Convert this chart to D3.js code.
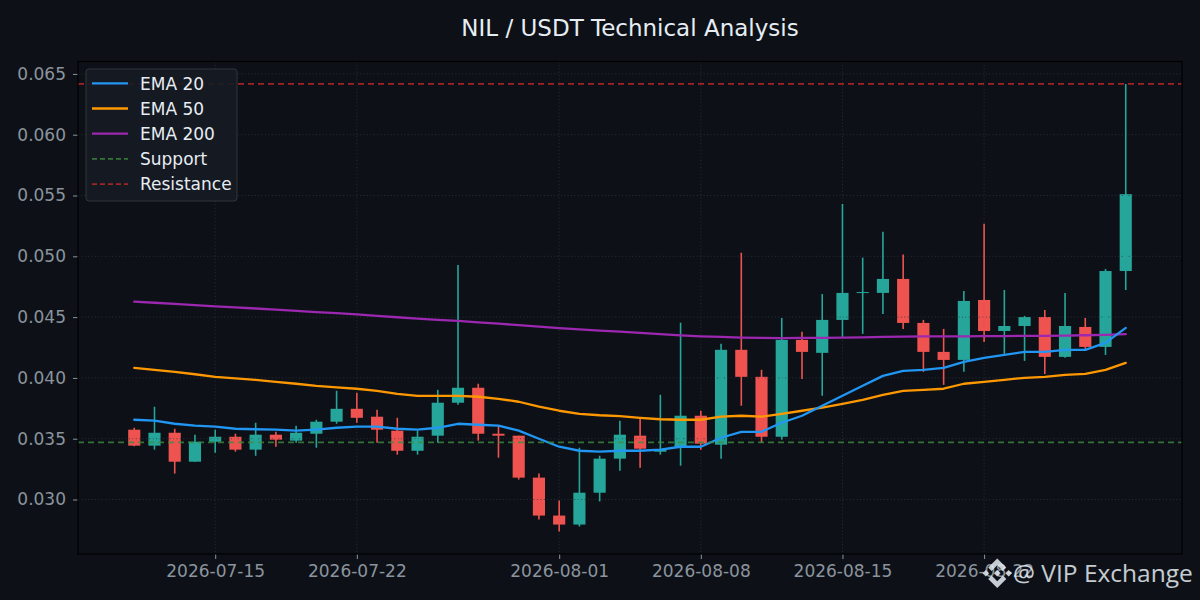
<!DOCTYPE html>
<html>
<head>
<meta charset="utf-8">
<script src="https://cdn.jsdelivr.net/npm/d3@7"></script>
<style>
  html, body { margin: 0; padding: 0; background: #0d1117; }
  svg { display: block; }
</style>
</head>
<body>
<svg id="chart" width="1200" height="600"></svg>
<script>
// ---------- data ----------
const dates = [
  "2026-07-11","2026-07-12","2026-07-13","2026-07-14","2026-07-15","2026-07-16","2026-07-17","2026-07-18","2026-07-19","2026-07-20",
  "2026-07-21","2026-07-22","2026-07-23","2026-07-24","2026-07-25","2026-07-26","2026-07-27","2026-07-28","2026-07-29","2026-07-30",
  "2026-07-31","2026-08-01","2026-08-02","2026-08-03","2026-08-04","2026-08-05","2026-08-06","2026-08-07","2026-08-08","2026-08-09",
  "2026-08-10","2026-08-11","2026-08-12","2026-08-13","2026-08-14","2026-08-15","2026-08-16","2026-08-17","2026-08-18","2026-08-19",
  "2026-08-20","2026-08-21","2026-08-22","2026-08-23","2026-08-24","2026-08-25","2026-08-26","2026-08-27","2026-08-28","2026-08-29"
];
const open = [
  0.03574,0.03443,0.03549,0.03311,0.03475,0.03516,0.03410,0.03533,0.03484,0.03541,
  0.03640,0.03746,0.03681,0.03566,0.03401,0.03525,0.03796,0.03919,0.03541,0.03525,
  0.03180,0.02868,0.02794,0.03056,0.03336,0.03525,0.03393,0.03426,0.03689,0.03451,
  0.04231,0.04009,0.03516,0.04313,0.04206,0.04477,0.04699,0.04699,0.04814,0.04452,
  0.04214,0.04148,0.04641,0.04386,0.04427,0.04501,0.04173,0.04419,0.04255,0.04879
];
const high = [
  0.03590,0.03763,0.03582,0.03533,0.03574,0.03541,0.03631,0.03557,0.03607,0.03656,
  0.03894,0.03878,0.03738,0.03672,0.03566,0.03902,0.04929,0.03952,0.03607,0.03525,
  0.03213,0.02991,0.03426,0.03360,0.03648,0.03664,0.03861,0.04454,0.03730,0.04280,
  0.05030,0.04067,0.04493,0.04379,0.04690,0.05430,0.04989,0.05203,0.05014,0.04477,
  0.04403,0.04715,0.05268,0.04723,0.04510,0.04559,0.04699,0.04493,0.04896,0.06418
];
const low = [
  0.03438,0.03410,0.03213,0.03311,0.03385,0.03393,0.03360,0.03434,0.03467,0.03426,
  0.03623,0.03631,0.03467,0.03369,0.03369,0.03467,0.03779,0.03484,0.03344,0.03164,
  0.02836,0.02736,0.02778,0.02984,0.03237,0.03262,0.03369,0.03278,0.03410,0.03336,
  0.03771,0.03467,0.03492,0.03992,0.03853,0.04337,0.04362,0.04526,0.04403,0.04050,
  0.03943,0.04050,0.04296,0.04198,0.04140,0.04033,0.04165,0.04239,0.04189,0.04723
];
const close = [
  0.03443,0.03549,0.03311,0.03475,0.03516,0.03410,0.03533,0.03492,0.03549,0.03640,
  0.03746,0.03672,0.03574,0.03401,0.03516,0.03796,0.03919,0.03541,0.03525,0.03180,
  0.02868,0.02794,0.03056,0.03336,0.03533,0.03418,0.03410,0.03689,0.03459,0.04231,
  0.04009,0.03516,0.04313,0.04214,0.04477,0.04699,0.04706,0.04814,0.04452,0.04214,
  0.04148,0.04633,0.04386,0.04427,0.04501,0.04173,0.04427,0.04255,0.04879,0.05511
];
const ema20 = [
  0.03656,0.03648,0.03623,0.03607,0.03599,0.03582,0.03578,0.03574,0.03566,0.03574,
  0.03590,0.03599,0.03599,0.03582,0.03574,0.03590,0.03623,0.03615,0.03607,0.03566,
  0.03500,0.03434,0.03401,0.03393,0.03401,0.03401,0.03410,0.03434,0.03434,0.03508,
  0.03557,0.03557,0.03631,0.03689,0.03771,0.03853,0.03935,0.04017,0.04058,0.04066,
  0.04083,0.04132,0.04165,0.04190,0.04214,0.04214,0.04231,0.04231,0.04288,0.04411
];
const ema50 = [
  0.04083,0.04066,0.04050,0.04030,0.04009,0.03997,0.03984,0.03968,0.03952,0.03935,
  0.03923,0.03911,0.03894,0.03869,0.03853,0.03853,0.03853,0.03845,0.03828,0.03804,
  0.03763,0.03730,0.03705,0.03693,0.03685,0.03672,0.03660,0.03656,0.03656,0.03681,
  0.03689,0.03681,0.03705,0.03730,0.03755,0.03787,0.03820,0.03861,0.03894,0.03902,
  0.03911,0.03952,0.03968,0.03984,0.04001,0.04009,0.04025,0.04034,0.04066,0.04124
];
const ema200 = [
  0.04627,0.04618,0.04609,0.04599,0.04589,0.04580,0.04571,0.04561,0.04551,0.04541,
  0.04532,0.04522,0.04510,0.04499,0.04488,0.04477,0.04469,0.04457,0.04446,0.04434,
  0.04421,0.04409,0.04399,0.04389,0.04380,0.04370,0.04360,0.04350,0.04342,0.04337,
  0.04332,0.04329,0.04328,0.04329,0.04330,0.04332,0.04334,0.04337,0.04339,0.04341,
  0.04342,0.04342,0.04343,0.04344,0.04346,0.04346,0.04348,0.04351,0.04354,0.04360
];
const supportLevel = 0.0347;
const resistanceLevel = 0.06418;
const xTickDates = ["2026-07-15","2026-07-22","2026-08-01","2026-08-08","2026-08-15","2026-08-22"];
const yTickValues = [0.030,0.035,0.040,0.045,0.050,0.055,0.060,0.065];
const titleText = "NIL / USDT Technical Analysis";
const legendItems = [
  {label: "EMA 20", color: "#2196f3", dash: null},
  {label: "EMA 50", color: "#ff9800", dash: null},
  {label: "EMA 200", color: "#9c27b0", dash: null},
  {label: "Support", color: "#3d8b40", dash: "5,3"},
  {label: "Resistance", color: "#c62828", dash: "5,3"}
];

// ---------- setup ----------
const W = 1200, H = 600;
const M = {left: 78, right: 1182, top: 61.5, bottom: 554};
const BG = "#0d1117";
const TXT = "#8b949e";
const UP = "#26a69a", DOWN = "#ef5350";

const parse = d3.utcParse("%Y-%m-%d");
const DAY = 86400000;
const candles = dates.map((d, i) => ({
  t: parse(d), o: open[i], h: high[i], l: low[i], c: close[i],
  e20: ema20[i], e50: ema50[i], e200: ema200[i]
}));

const barW = 0.6; // days
const t0 = candles[0].t.getTime(), t1 = candles[candles.length - 1].t.getTime();
const spanDays = (t1 - t0) / DAY + barW;
const padDays = barW / 2 + spanDays * 0.05;
const x = d3.scaleUtc()
  .domain([new Date(t0 - padDays * DAY), new Date(t1 + padDays * DAY)])
  .range([M.left, M.right]);

const yMin = d3.min(low), yMax = d3.max(high);
const yPad = (yMax - yMin) * 0.05;
const y = d3.scaleLinear().domain([yMin - yPad, yMax + yPad]).range([M.bottom, M.top]);

const svg = d3.select("#chart");
svg.append("rect").attr("width", W).attr("height", H).attr("fill", BG);

svg.append("rect").attr("x", M.left).attr("y", M.top)
  .attr("width", M.right - M.left).attr("height", M.bottom - M.top).attr("fill", BG);

svg.append("defs").append("clipPath").attr("id", "clip")
  .append("rect").attr("x", M.left).attr("y", M.top)
  .attr("width", M.right - M.left).attr("height", M.bottom - M.top);

const plot = svg.append("g").attr("clip-path", "url(#clip)");

// candle bodies
const bw = x(new Date(t0 + barW * DAY)) - x(new Date(t0));
plot.append("g").selectAll("rect").data(candles).join("rect")
  .attr("x", d => x(d.t) - bw / 2)
  .attr("y", d => y(Math.max(d.o, d.c)))
  .attr("width", bw)
  .attr("height", d => Math.max(1, Math.abs(y(d.o) - y(d.c))))
  .attr("fill", d => d.c >= d.o ? UP : DOWN);

// grid (above bars, below lines)
const grid = plot.append("g");
grid.selectAll("line.gy").data(yTickValues).join("line")
  .attr("x1", M.left).attr("x2", M.right)
  .attr("y1", d => y(d)).attr("y2", d => y(d))
  .attr("stroke", "#30363d").attr("stroke-width", 0.8).attr("stroke-dasharray", "1,2.4");
grid.selectAll("line.gx").data(xTickDates).join("line")
  .attr("y1", M.top).attr("y2", M.bottom)
  .attr("x1", d => x(parse(d))).attr("x2", d => x(parse(d)))
  .attr("stroke", "#30363d").attr("stroke-width", 0.8).attr("stroke-dasharray", "1,2.4");

// wicks
plot.append("g").selectAll("line").data(candles).join("line")
  .attr("x1", d => x(d.t)).attr("x2", d => x(d.t))
  .attr("y1", d => y(d.h)).attr("y2", d => y(d.l))
  .attr("stroke", d => d.c >= d.o ? UP : DOWN)
  .attr("stroke-width", 1.6);

// EMA lines
const lineGen = key => d3.line().x(d => x(d.t)).y(d => y(d[key]));
[["e200", "#9c27b0"], ["e50", "#ff9800"], ["e20", "#2196f3"]].forEach(([k, c]) => {
  plot.append("path").datum(candles).attr("d", lineGen(k))
    .attr("fill", "none").attr("stroke", c).attr("stroke-width", 2.3)
    .attr("stroke-linejoin", "round").attr("stroke-linecap", "round");
});

// support / resistance
plot.append("line").attr("x1", M.left).attr("x2", M.right)
  .attr("y1", y(supportLevel)).attr("y2", y(supportLevel))
  .attr("stroke", "#3d8b40").attr("stroke-width", 1.6).attr("stroke-dasharray", "6,4").attr("opacity", 0.8);
plot.append("line").attr("x1", M.left).attr("x2", M.right)
  .attr("y1", y(resistanceLevel)).attr("y2", y(resistanceLevel))
  .attr("stroke", "#c62828").attr("stroke-width", 1.6).attr("stroke-dasharray", "6,4").attr("opacity", 0.8);

// axes
const xAxis = d3.axisBottom(x).tickValues(xTickDates.map(parse))
  .tickFormat(d3.utcFormat("%Y-%m-%d")).tickSize(5).tickPadding(6);
const gx = svg.append("g").attr("transform", `translate(0,${M.bottom})`).call(xAxis);
const yAxis = d3.axisLeft(y).tickValues(yTickValues).tickFormat(d3.format(".3f")).tickSize(5).tickPadding(7);
const gy = svg.append("g").attr("transform", `translate(${M.left},0)`).call(yAxis);
[gx, gy].forEach(g => {
  g.select(".domain").remove();
  g.selectAll(".tick line").attr("stroke", TXT).attr("stroke-width", 1);
  g.selectAll(".tick text").attr("fill", TXT)
    .style("font-family", "'DejaVu Sans', sans-serif").style("font-size", "17px");
});

// frame
svg.append("rect").attr("x", M.left).attr("y", M.top)
  .attr("width", M.right - M.left).attr("height", M.bottom - M.top)
  .attr("fill", "none").attr("stroke", "#000000").attr("stroke-width", 1.2);

// title
svg.append("text").attr("x", (M.left + M.right) / 2).attr("y", 36)
  .attr("text-anchor", "middle").attr("fill", "#e6edf3")
  .style("font-family", "'DejaVu Sans', sans-serif").style("font-size", "23px")
  .text(titleText);

// legend
const lg = svg.append("g");
lg.append("rect").attr("x", 86).attr("y", 69).attr("width", 151).attr("height", 132)
  .attr("rx", 3).attr("fill", "#161b22").attr("fill-opacity", 0.9)
  .attr("stroke", "#30363d").attr("stroke-width", 1);
legendItems.forEach((it, i) => {
  const cy = 83.3 + i * 25.2;
  lg.append("line").attr("x1", 92).attr("x2", 128).attr("y1", cy).attr("y2", cy)
    .attr("stroke", it.color).attr("stroke-width", it.dash ? 1.6 : 2.3)
    .attr("stroke-dasharray", it.dash).attr("opacity", it.dash ? 0.8 : 1);
  lg.append("text").attr("x", 140).attr("y", cy + 6.2).attr("fill", "#e6edf3")
    .style("font-family", "'DejaVu Sans', sans-serif").style("font-size", "17px")
    .text(it.label);
});

// watermark
const wm = svg.append("g").attr("opacity", 0.85);
const logo = wm.append("g").attr("transform", "translate(982.5,558.5) scale(0.233)");
const logoPaths = [
  "M38.73,53.2L63.3,28.64L87.89,53.22L102.19,38.92L63.3,0L24.42,38.9Z",
  "M0,63.31L14.3,49L28.6,63.3L14.3,77.61Z",
  "M38.73,73.41L63.3,97.97L87.88,73.4L102.19,87.69L63.3,126.61L24.42,87.71Z",
  "M98,63.31L112.3,49L126.61,63.3L112.3,77.61Z",
  "M77.83,63.3L63.3,48.76L48.78,63.27L63.3,77.78Z"
];
logoPaths.forEach(p => logo.append("path").attr("d", p).attr("fill", "#e6edf3"));
wm.append("text").attr("x", 1013).attr("y", 582).attr("fill", "#e6edf3")
  .style("font-family", "'Open Sans', 'Noto Sans', sans-serif").style("font-size", "24.5px")
  .text("@ VIP Exchange");
</script>
</body>
</html>
